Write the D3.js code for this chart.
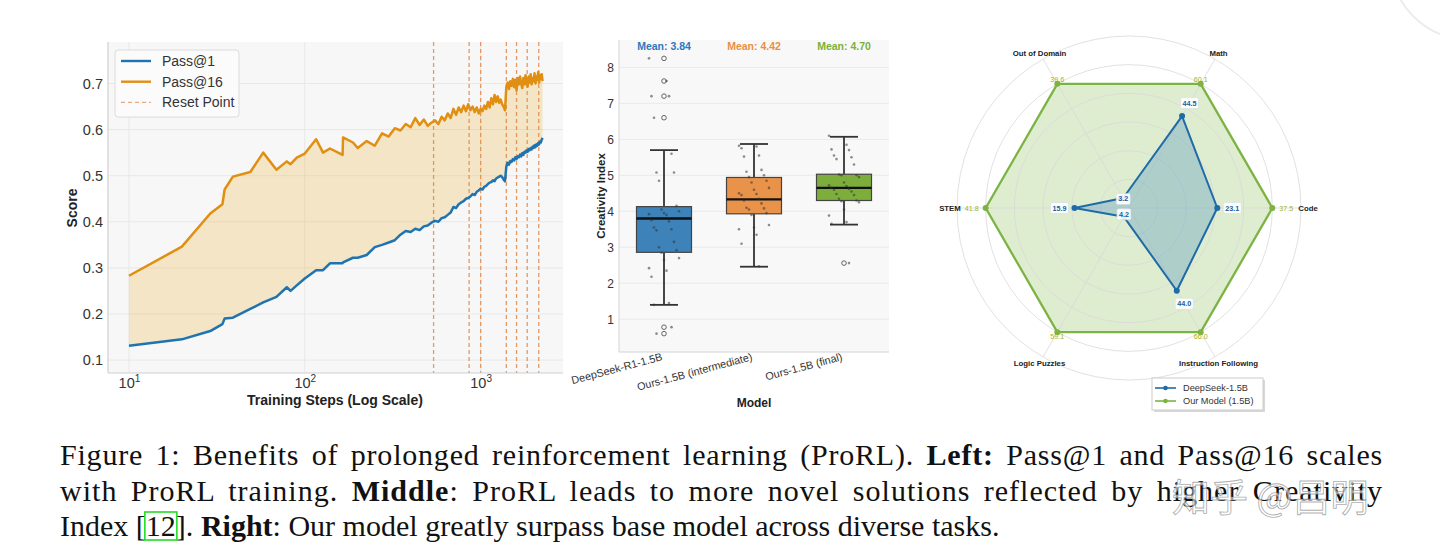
<!DOCTYPE html>
<html>
<head>
<meta charset="utf-8">
<script src="https://cdn.jsdelivr.net/npm/d3@7"></script>
<style>
  body { margin: 0; background: #fff; }
  svg { display: block; }
  text { font-family: "Liberation Sans", Arial, sans-serif; }
</style>
</head>
<body>
<svg width="1440" height="556"></svg>
<script>
// ---------- data: left panel (training curves) ----------
const steps = [10,20,29,34,35,39,49,58,69,79,83,90,100,116,127,139,164,165,188,
  200,225,250,275,300,325,350,375,400,425,
  450,475,500,525,550,575,600,625,650,675,
  700,725,750,775,800,825,850,875,900,925,
  950,975,1000,1025,1050,1075,1100,1125,1150,1175,
  1200,1225,1250,1275,1300,1325,1350,1375,1400,1425,
  1450,1475,1500,1525,1550,1575,1600,1625,1650,1675,
  1700,1725,1750,1775,1800,1825,1850,1875,1900,1925,
  1950,1975,2000,2025,2050,2075,2100,2125,2150,2175,
  2200,2225,2250];
const pass16 = [0.283,0.346,0.418,0.438,0.470,0.498,0.508,0.550,0.513,0.531,0.525,0.539,0.548,0.579,0.550,0.559,0.545,0.583,0.572,
  0.560,0.575,0.565,0.592,0.585,0.603,0.598,0.612,0.605,0.625,
  0.610,0.622,0.608,0.615,0.620,0.612,0.628,0.620,0.635,0.625,
  0.645,0.632,0.648,0.638,0.652,0.640,0.655,0.642,0.650,0.638,
  0.648,0.635,0.645,0.640,0.652,0.645,0.660,0.648,0.668,0.655,
  0.675,0.660,0.672,0.658,0.665,0.655,0.650,0.642,0.692,0.702,
  0.688,0.705,0.695,0.710,0.692,0.708,0.685,0.712,0.698,0.715,
  0.700,0.690,0.712,0.698,0.718,0.700,0.693,0.715,0.702,0.720,
  0.698,0.712,0.705,0.722,0.700,0.715,0.708,0.725,0.702,0.718,
  0.710,0.720,0.705];
const pass1 = [0.131,0.145,0.163,0.178,0.190,0.192,0.211,0.225,0.237,0.258,0.250,0.262,0.277,0.295,0.295,0.310,0.310,0.312,0.322,
  0.322,0.328,0.345,0.350,0.355,0.360,0.372,0.380,0.378,0.385,
  0.382,0.390,0.392,0.398,0.402,0.400,0.408,0.410,0.415,0.420,
  0.432,0.430,0.438,0.442,0.445,0.450,0.452,0.455,0.460,0.458,
  0.465,0.468,0.472,0.470,0.476,0.478,0.482,0.485,0.486,0.490,
  0.488,0.494,0.496,0.498,0.500,0.497,0.492,0.488,0.520,0.528,
  0.524,0.532,0.530,0.536,0.533,0.540,0.536,0.542,0.540,0.546,
  0.542,0.549,0.545,0.552,0.550,0.555,0.552,0.558,0.555,0.560,
  0.557,0.563,0.560,0.566,0.562,0.568,0.565,0.571,0.568,0.574,
  0.572,0.578,0.582];
const resetSteps = [540, 860, 1000, 1400, 1600, 1840, 2140];
const scoreTicks = [0.1, 0.2, 0.3, 0.4, 0.5, 0.6, 0.7];
const stepTicks = [10, 100, 1000];
const curveNames = ["Pass@1", "Pass@16", "Reset Point"];

// ---------- data: middle panel (creativity index) ----------
const models = ["DeepSeek-R1-1.5B", "Ours-1.5B (intermediate)", "Ours-1.5B (final)"];
const means = [3.84, 4.42, 4.70];
const q1 = [2.86, 3.93, 4.30];
const medians = [3.80, 4.33, 4.65];
const q3 = [4.13, 4.94, 5.03];
const whiskerLo = [1.40, 2.46, 3.63];
const whiskerHi = [5.70, 5.87, 6.07];
const outliers = [[8.25, 7.62, 7.20, 6.60, 0.78, 0.60], [], [2.56]];
const samples = [
  [8.25,7.62,7.20,7.20,6.60,5.60,5.08,5.08,4.85,4.15,4.05,4.00,3.95,3.92,3.90,3.75,3.72,3.55,3.50,3.47,3.15,3.00,2.92,2.85,2.70,2.65,2.42,2.35,2.18,1.45,1.40,0.78,0.60],
  [5.82,5.80,5.75,5.55,5.52,5.15,5.10,5.00,4.95,4.85,4.80,4.65,4.60,4.50,4.48,4.45,4.35,4.30,4.22,4.10,4.08,4.05,3.95,3.90,3.62,3.55,3.50,3.35,3.10,2.47],
  [6.10,5.85,5.72,5.70,5.55,5.50,5.45,5.30,5.02,5.00,5.00,4.95,4.80,4.72,4.70,4.65,4.62,4.60,4.55,4.48,4.45,4.35,4.30,4.28,4.25,4.05,3.88,3.70,3.65,2.56]
];
const creativityTicks = [1, 2, 3, 4, 5, 6, 7, 8];

// ---------- data: right panel (radar) ----------
const tasks = ["Code", "Math", "Out of Domain", "STEM", "Logic Puzzles", "Instruction Following"];
const ourScores = [37.5, 60.1, 39.6, 41.8, 59.1, 66.0];
const baseScores = [23.1, 44.5, 3.2, 15.9, 4.2, 44.0];
const radarSeries = ["DeepSeek-1.5B", "Our Model (1.5B)"];
const radarRings = [0.2, 0.4, 0.6, 0.8, 1.0, 1.2];

const svg = d3.select("svg");
svg.append("rect").attr("width", 1440).attr("height", 556).attr("fill", "#fff");

// faint arc in top right corner
svg.append("circle").attr("cx", 1470).attr("cy", -40).attr("r", 80)
  .attr("fill", "none").attr("stroke", "#ececec").attr("stroke-width", 2);

// =============== LEFT PANEL ===============
const blue = "#1f73b1", orange = "#e08f12", resetColor = "#e3894a";
const xL = d3.scaleLog().domain([7.6, 2940]).range([108, 563]);
const yL = d3.scaleLinear().domain([0.072, 0.79]).range([373, 42]);
const L = svg.append("g");
L.append("rect").attr("x", 108).attr("y", 42).attr("width", 455).attr("height", 331).attr("fill", "#f7f7f7");

L.selectAll(".gy").data(scoreTicks).join("line")
  .attr("x1", 108).attr("x2", 563).attr("y1", d => yL(d)).attr("y2", d => yL(d))
  .attr("stroke", "#e6e6e6").attr("stroke-width", 0.9);
L.selectAll(".gx").data(stepTicks).join("line")
  .attr("x1", d => xL(d)).attr("x2", d => xL(d)).attr("y1", 42).attr("y2", 373)
  .attr("stroke", "#e6e6e6").attr("stroke-width", 0.9);

const curve = steps.map((s, i) => ({ s, p1: pass1[i], p16: pass16[i] }));
L.append("path").datum(curve)
  .attr("d", d3.area().x(d => xL(d.s)).y0(d => yL(d.p1)).y1(d => yL(d.p16)))
  .attr("fill", "#e69f00").attr("fill-opacity", 0.2);

L.selectAll(".reset").data(resetSteps).join("line")
  .attr("x1", d => xL(d)).attr("x2", d => xL(d)).attr("y1", 42).attr("y2", 373)
  .attr("stroke", resetColor).attr("stroke-width", 1.3).attr("stroke-dasharray", "4,3").attr("opacity", 0.85);

L.append("path").datum(curve)
  .attr("d", d3.line().x(d => xL(d.s)).y(d => yL(d.p16)))
  .attr("fill", "none").attr("stroke", orange).attr("stroke-width", 2.5).attr("stroke-linejoin", "round");
L.append("path").datum(curve)
  .attr("d", d3.line().x(d => xL(d.s)).y(d => yL(d.p1)))
  .attr("fill", "none").attr("stroke", blue).attr("stroke-width", 2.5).attr("stroke-linejoin", "round");

// spines
L.append("line").attr("x1", 108).attr("x2", 108).attr("y1", 42).attr("y2", 373).attr("stroke", "#d0d0d0").attr("stroke-width", 1.2);
L.append("line").attr("x1", 108).attr("x2", 563).attr("y1", 373).attr("y2", 373).attr("stroke", "#d0d0d0").attr("stroke-width", 1.2);

const yAxisL = L.append("g").attr("transform", "translate(108,0)")
  .call(d3.axisLeft(yL).tickValues(scoreTicks).tickSize(0).tickPadding(5).tickFormat(d3.format(".1f")));
yAxisL.select(".domain").remove();
yAxisL.selectAll("text").attr("font-size", 14.5).attr("fill", "#333").style("font-family", "Liberation Sans, Arial");

const xAxisL = L.append("g").attr("transform", "translate(0,373)")
  .call(d3.axisBottom(xL).tickValues(stepTicks).tickSize(0).tickPadding(5).tickFormat(() => ""));
xAxisL.select(".domain").remove();
xAxisL.selectAll(".tick text").attr("font-size", 14.5).attr("fill", "#333").each(function (d) {
  const t = d3.select(this);
  t.append("tspan").text("10");
  t.append("tspan").attr("dy", -6).attr("font-size", 10).text(Math.round(Math.log10(d)));
});

L.append("text").attr("transform", "translate(77,208) rotate(-90)").attr("text-anchor", "middle")
  .attr("font-size", 14).attr("font-weight", "bold").attr("fill", "#222").text("Score");
L.append("text").attr("x", 335).attr("y", 405).attr("text-anchor", "middle")
  .attr("font-size", 14).attr("font-weight", "bold").attr("fill", "#222").text("Training Steps (Log Scale)");

// legend
const lg = L.append("g");
lg.append("rect").attr("x", 115).attr("y", 50).attr("width", 124).attr("height", 67).attr("rx", 3)
  .attr("fill", "#fbfbfb").attr("stroke", "#dcdcdc");
const lgColors = [blue, orange, resetColor];
curveNames.forEach((n, i) => {
  const y = 61 + i * 20.7;
  lg.append("line").attr("x1", 121).attr("x2", 151).attr("y1", y).attr("y2", y)
    .attr("stroke", lgColors[i]).attr("stroke-width", i < 2 ? 2.4 : 1.3)
    .attr("stroke-dasharray", i === 2 ? "4,3" : null).attr("opacity", i === 2 ? 0.7 : 1);
  lg.append("text").attr("x", 162).attr("y", y + 5).attr("font-size", 14).attr("fill", "#333").text(n);
});

// =============== MIDDLE PANEL ===============
const boxColors = ["#3d82b8", "#e8924a", "#7dae3b"];
const meanColors = ["#2b79bf", "#e98f45", "#7ab13a"];
const xM = d3.scalePoint().domain(models).range([619, 889]).padding(0.5);
const yM = d3.scaleLinear().domain([0.09, 8.76]).range([352, 40]);
const M = svg.append("g");
M.append("rect").attr("x", 619).attr("y", 40).attr("width", 270).attr("height", 312).attr("fill", "#f8f8f8");
M.selectAll(".gy").data(creativityTicks).join("line")
  .attr("x1", 619).attr("x2", 889).attr("y1", d => yM(d)).attr("y2", d => yM(d))
  .attr("stroke", "#e8e8e8").attr("stroke-width", 0.9);
M.append("line").attr("x1", 619).attr("x2", 619).attr("y1", 40).attr("y2", 352).attr("stroke", "#d4d4d4");
M.append("line").attr("x1", 619).attr("x2", 889).attr("y1", 352).attr("y2", 352).attr("stroke", "#d4d4d4");

const bw = 55, capW = 28;
models.forEach((m, i) => {
  const cx = xM(m);
  const g = M.append("g");
  g.append("line").attr("x1", cx).attr("x2", cx).attr("y1", yM(whiskerLo[i])).attr("y2", yM(q1[i]))
    .attr("stroke", "#333").attr("stroke-width", 1.8);
  g.append("line").attr("x1", cx).attr("x2", cx).attr("y1", yM(q3[i])).attr("y2", yM(whiskerHi[i]))
    .attr("stroke", "#333").attr("stroke-width", 1.8);
  [whiskerLo[i], whiskerHi[i]].forEach(v => {
    g.append("line").attr("x1", cx - capW / 2).attr("x2", cx + capW / 2).attr("y1", yM(v)).attr("y2", yM(v))
      .attr("stroke", "#333").attr("stroke-width", 1.8);
  });
  g.append("rect").attr("x", cx - bw / 2).attr("y", yM(q3[i])).attr("width", bw).attr("height", yM(q1[i]) - yM(q3[i]))
    .attr("fill", boxColors[i]).attr("stroke", "#444").attr("stroke-width", 1.2);
  g.append("line").attr("x1", cx - bw / 2).attr("x2", cx + bw / 2).attr("y1", yM(medians[i])).attr("y2", yM(medians[i]))
    .attr("stroke", "#111").attr("stroke-width", 2.4);
  g.selectAll(".out").data(outliers[i]).join("circle")
    .attr("cx", cx).attr("cy", d => yM(d)).attr("r", 2.3)
    .attr("fill", "none").attr("stroke", "#555").attr("stroke-width", 0.9);
  g.selectAll(".pt").data(samples[i]).join("circle")
    .attr("cx", (d, j) => cx + (((j * 7) % 13) / 12 - 0.5) * 30)
    .attr("cy", d => yM(d)).attr("r", 1.3)
    .attr("fill", "#333").attr("opacity", 0.55);
  M.append("text").attr("x", cx).attr("y", 50).attr("text-anchor", "middle")
    .attr("font-size", 10.5).attr("font-weight", "bold").attr("fill", meanColors[i])
    .text("Mean: " + means[i].toFixed(2));
});

const yAxisM = M.append("g").attr("transform", "translate(619,0)")
  .call(d3.axisLeft(yM).tickValues(creativityTicks).tickSize(0).tickPadding(5));
yAxisM.select(".domain").remove();
yAxisM.selectAll("text").attr("font-size", 12).attr("fill", "#333");

M.selectAll(".xl").data(models).join("text")
  .attr("transform", d => `translate(${xM(d) - 1},360) rotate(-15)`)
  .attr("text-anchor", "end").attr("font-size", 10.8).attr("fill", "#333").text(d => d);
M.append("text").attr("transform", "translate(605,196) rotate(-90)").attr("text-anchor", "middle")
  .attr("font-size", 11.5).attr("font-weight", "bold").attr("fill", "#222").text("Creativity Index");
M.append("text").attr("x", 754).attr("y", 407).attr("text-anchor", "middle")
  .attr("font-size", 12).attr("font-weight", "bold").attr("fill", "#222").text("Model");

// =============== RIGHT PANEL (radar) ===============
const rcx = 1129, rcy = 208;
const rR = d3.scaleLinear().domain([0, 1.2]).range([0, 172]);
const ang = i => i * Math.PI / 3;
const pt = (i, r) => [rcx + r * Math.cos(ang(i)), rcy - r * Math.sin(ang(i))];
const R = svg.append("g");
const green = "#7cb342", rBlue = "#1f6aa8";

const ourNorm = ourScores.map((v, i) => v / ourScores[i]);
const baseNorm = baseScores.map((v, i) => v / ourScores[i]);

R.append("path").attr("d", d3.line()(ourNorm.map((v, i) => pt(i, rR(v)))) + "Z")
  .attr("fill", green).attr("fill-opacity", 0.25).attr("stroke", "none");

R.selectAll(".ring").data(radarRings).join("circle")
  .attr("cx", rcx).attr("cy", rcy).attr("r", d => rR(d))
  .attr("fill", "none").attr("stroke", "#d9d9d9").attr("stroke-width", 0.8);
R.selectAll(".spoke").data(tasks).join("line")
  .attr("x1", rcx).attr("y1", rcy)
  .attr("x2", (d, i) => pt(i, rR(1.2))[0]).attr("y2", (d, i) => pt(i, rR(1.2))[1])
  .attr("stroke", "#d9d9d9").attr("stroke-width", 0.8);

R.append("path").attr("d", d3.line()(ourNorm.map((v, i) => pt(i, rR(v)))) + "Z")
  .attr("fill", "none").attr("stroke", green).attr("stroke-width", 2.3).attr("stroke-linejoin", "round");
R.append("path").attr("d", d3.line()(baseNorm.map((v, i) => pt(i, rR(v)))) + "Z")
  .attr("fill", "#1f77b4").attr("fill-opacity", 0.25).attr("stroke", rBlue).attr("stroke-width", 2).attr("stroke-linejoin", "round");
R.selectAll(".gdot").data(ourNorm).join("circle")
  .attr("cx", (d, i) => pt(i, rR(d))[0]).attr("cy", (d, i) => pt(i, rR(d))[1]).attr("r", 3).attr("fill", green);
R.selectAll(".bdot").data(baseNorm).join("circle")
  .attr("cx", (d, i) => pt(i, rR(d))[0]).attr("cy", (d, i) => pt(i, rR(d))[1]).attr("r", 3).attr("fill", rBlue);

// category labels
R.selectAll(".cat").data(tasks).join("text")
  .attr("x", (d, i) => pt(i, 179)[0]).attr("y", (d, i) => pt(i, 179)[1])
  .attr("dy", "0.35em").attr("text-anchor", "middle")
  .attr("font-size", 7.8).attr("font-weight", "bold").attr("fill", "#222").text(d => d);

// our model value labels
R.selectAll(".gval").data(ourScores).join("text")
  .attr("x", (d, i) => { const [x] = pt(i, rR(ourNorm[i])); const c = Math.cos(ang(i)); return x + (Math.abs(c) > 0.9 ? 14 * Math.sign(c) : 0); })
  .attr("y", (d, i) => { const [, y] = pt(i, rR(ourNorm[i])); const s = Math.sin(ang(i)); return y - (Math.abs(s) > 0.1 ? 4 * Math.sign(s) : 0); })
  .attr("dy", "0.35em").attr("text-anchor", "middle")
  .attr("font-size", 7.2).attr("fill", "#a0b224").text(d => d.toFixed(1));

// base model value labels with white boxes
baseScores.forEach((v, i) => {
  const rn = rR(baseNorm[i]);
  const off = baseNorm[i] > 0.2 ? 15 : 0;
  let [x, y] = pt(i, rn + off);
  if (i === 2) y += 1; if (i === 4) y -= 2.5;
  const t = R.append("text").attr("x", x).attr("y", y).attr("dy", "0.35em").attr("text-anchor", "middle")
    .attr("font-size", 7.2).attr("font-weight", "bold").attr("fill", "#1d5c9a").text(v.toFixed(1));
  const bb = t.node().getBBox();
  R.insert("rect", () => t.node()).attr("x", bb.x - 2).attr("y", bb.y - 1).attr("width", bb.width + 4).attr("height", bb.height + 2)
    .attr("rx", 1.5).attr("fill", "#fff").attr("fill-opacity", 0.9).attr("stroke", "#cfd8e0").attr("stroke-width", 0.5);
});

// radar legend
const rl = R.append("g");
rl.append("rect").attr("x", 1154).attr("y", 380).attr("width", 111).attr("height", 32).attr("fill", "#d8d8d8");
rl.append("rect").attr("x", 1152).attr("y", 378).attr("width", 111).attr("height", 32).attr("fill", "#fff").attr("stroke", "#cccccc");
[rBlue, green].forEach((c, i) => {
  const y = 388 + i * 13;
  rl.append("line").attr("x1", 1155).attr("x2", 1176).attr("y1", y).attr("y2", y).attr("stroke", c).attr("stroke-width", 1.6);
  rl.append("circle").attr("cx", 1165.5).attr("cy", y).attr("r", 2.3).attr("fill", c);
  rl.append("text").attr("x", 1183).attr("y", y + 3.3).attr("font-size", 9.2).attr("fill", "#333").text(radarSeries[i]);
});

// =============== CAPTION ===============
const capLines = [
  [["Figure 1: Benefits of prolonged reinforcement learning (ProRL). ", 0], ["Left:", 1], [" Pass@1 and Pass@16 scales", 0]],
  [["with ProRL training. ", 0], ["Middle", 1], [": ProRL leads to more novel solutions reflected by higher Creativity", 0]],
  [["Index [", 0], ["12", 2], ["]. ", 0], ["Right", 1], [": Our model greatly surpass base model across diverse tasks.", 0]]
];
const capBase = [465, 501, 536];
const capG = svg.append("g");
const capTexts = capLines.map((line, li) => {
  const t = capG.append("text").attr("x", 60).attr("y", capBase[li])
    .style("font-family", "'Liberation Serif', 'Times New Roman', serif").attr("font-size", 30).attr("fill", "#111");
  line.forEach(([s, kind]) => {
    const sp = t.append("tspan").text(s);
    if (kind === 1) sp.attr("font-weight", "bold");
    if (kind === 2) sp.attr("class", "cite");
  });
  return t;
});
const w3 = capTexts[2].node().getComputedTextLength();
const fs = 30 * 940 / w3;
capTexts.forEach(t => t.attr("font-size", fs));
// justify the first two lines: spread the slack over letters and words
[0, 1].forEach(li => {
  const t = capTexts[li];
  const w = t.node().getComputedTextLength();
  const str = capLines[li].map(d => d[0]).join("");
  const spaces = str.split(" ").length - 1;
  const slack = 1323 - w;
  const ls = (slack * 0.6) / str.length;
  t.style("letter-spacing", ls + "px");
  const w2 = t.node().getComputedTextLength();
  t.style("word-spacing", ((1323 - w2) / spaces) + "px");
});
const cite = capG.select(".cite").node().getBBox();
capG.append("rect").attr("x", cite.x - 1).attr("y", cite.y + 3).attr("width", cite.width + 2).attr("height", cite.height - 5)
  .attr("fill", "none").attr("stroke", "#22dd22").attr("stroke-width", 1.6);

// watermark
svg.append("text").attr("x", 1172).attr("y", 511)
  .style("font-family", "'Noto Sans CJK SC', sans-serif").attr("font-size", 38)
  .attr("fill", "#fff").attr("fill-opacity", 0.6).attr("stroke", "#8a8a8a").attr("stroke-opacity", 0.7).attr("stroke-width", 0.9)
  .text("知乎 @吕明");
</script>
</body>
</html>
